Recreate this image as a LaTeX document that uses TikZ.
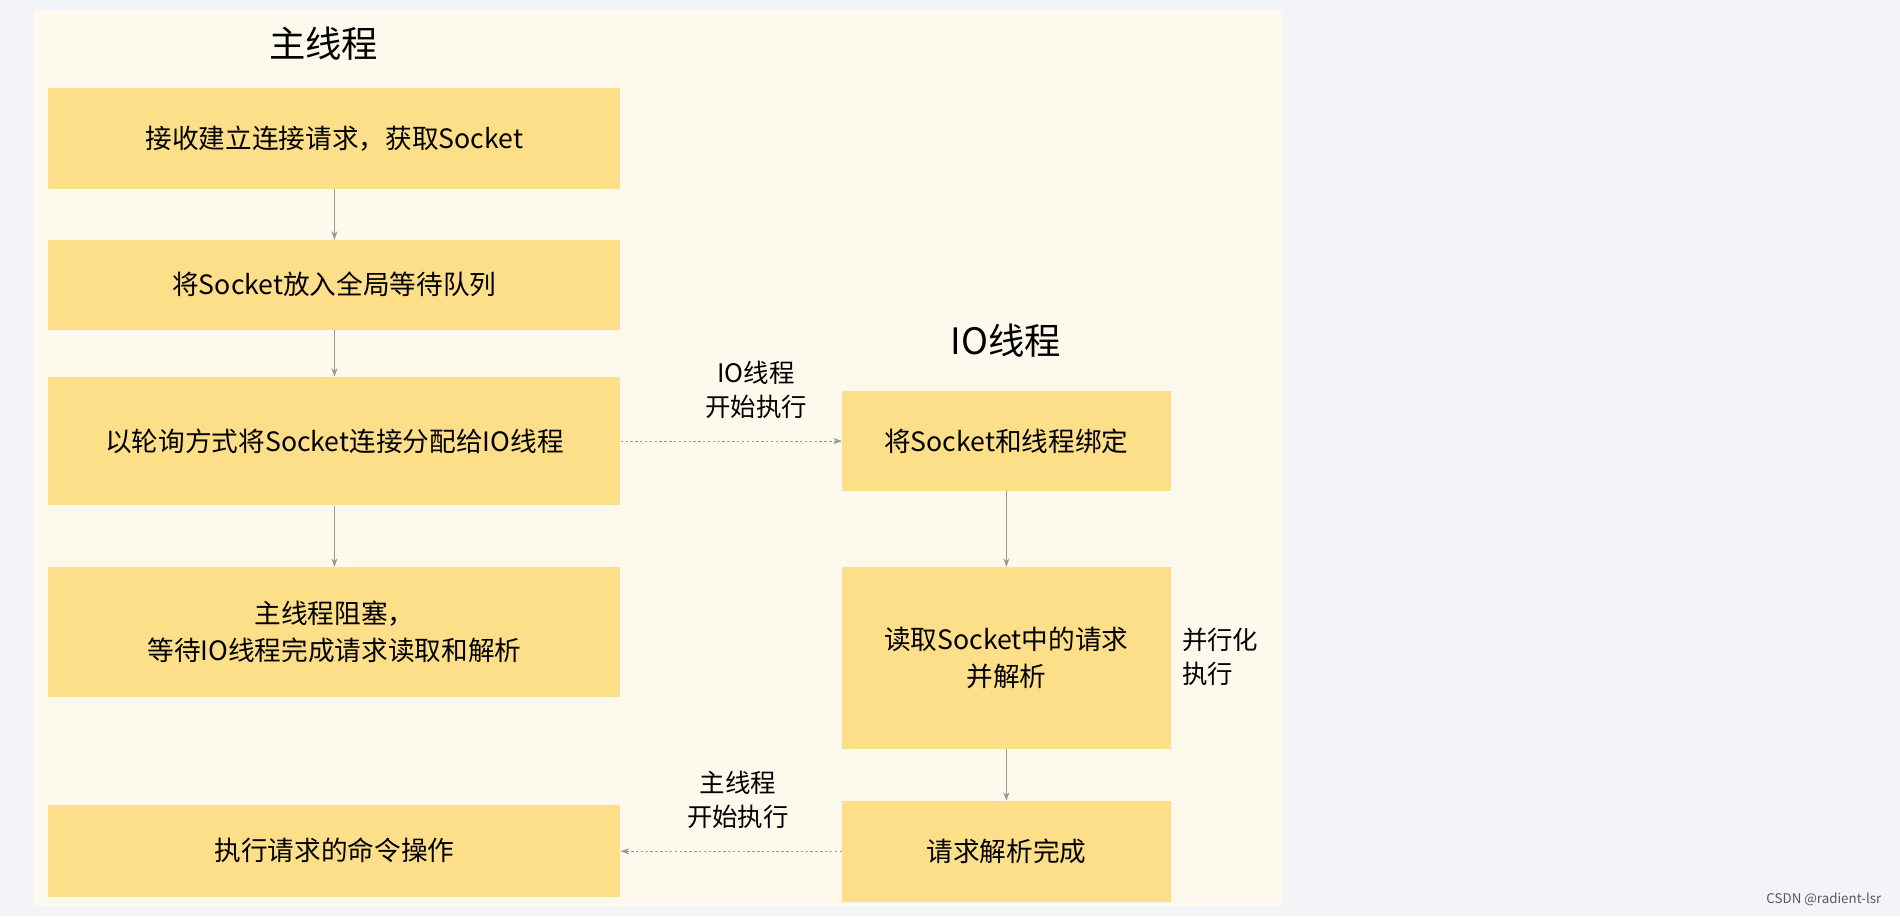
\documentclass[tikz,border=0pt]{standalone}
\usepackage{fontspec}
\setmainfont{Noto Sans CJK SC}
\usetikzlibrary{arrows.meta}
\begin{document}
\begin{tikzpicture}[x=1pt,y=-1pt,
 box/.style={fill=boxc,draw=none,inner sep=0pt,align=center,font=\fontsize{22}{30}\selectfont},
 lab/.style={align=center,font=\fontsize{21}{28}\selectfont},
 arr/.style={-{Stealth[length=7pt,width=5pt]},draw=gray!80,line width=0.8pt},
 darr/.style={arr,dash pattern=on 2pt off 2pt}]
\definecolor{boxc}{HTML}{FDDF8A}
\definecolor{bgc}{HTML}{F3F4F8}
\definecolor{panel}{HTML}{FDF9EC}
\fill[bgc] (0,0) rectangle (1568,756);
\useasboundingbox (0,0) rectangle (1568,756);
\fill[panel] (28,8) rectangle (1058,748);
\node[font=\fontsize{30}{36}\selectfont] (t1) at (267,36) {主线程};
\node[font=\fontsize{30}{36}\selectfont] (t2) at (830,281) {IO线程};
\node[box,minimum width=472pt,minimum height=83pt] (b1) at (276,114.5) {接收建立连接请求，获取Socket};
\node[box,minimum width=472pt,minimum height=74pt] (b2) at (276,235) {将Socket放入全局等待队列};
\node[box,minimum width=472pt,minimum height=106pt] (b3) at (276,364) {以轮询方式将Socket连接分配给IO线程};
\node[box,minimum width=472pt,minimum height=107pt] (b4) at (276,521.5) {主线程阻塞，\\等待IO线程完成请求读取和解析};
\node[box,minimum width=472pt,minimum height=76pt] (b5) at (276,702) {执行请求的命令操作};
\node[box,minimum width=271pt,minimum height=82pt] (b6) at (830.5,364) {将Socket和线程绑定};
\node[box,minimum width=271pt,minimum height=150pt] (b7) at (830.5,543) {读取Socket中的请求\\并解析};
\node[box,minimum width=271pt,minimum height=83pt] (b8) at (830.5,702.5) {请求解析完成};
\draw[arr] (b1) -- (b2);
\draw[arr] (b2) -- (b3);
\draw[arr] (b3) -- (b4);
\draw[arr] (b6) -- (b7);
\draw[arr] (b7) -- (b8);
\draw[darr] (b3.east) -- (b6.west |- b3.east);
\draw[darr] (b8.west) -- (b5.east |- b8.west);
\node[lab] (l1) at (624,322) {IO线程\\开始执行};
\node[lab] (l2) at (609,660) {主线程\\开始执行};
\node[lab,align=left,anchor=west] (l3) at (972,542) {并行化\\执行};
\node[font=\fontsize{11}{13}\selectfont,text=gray!70!black,anchor=east] (w) at (1556,742) {CSDN @radient-lsr};
\end{tikzpicture}
\end{document}
